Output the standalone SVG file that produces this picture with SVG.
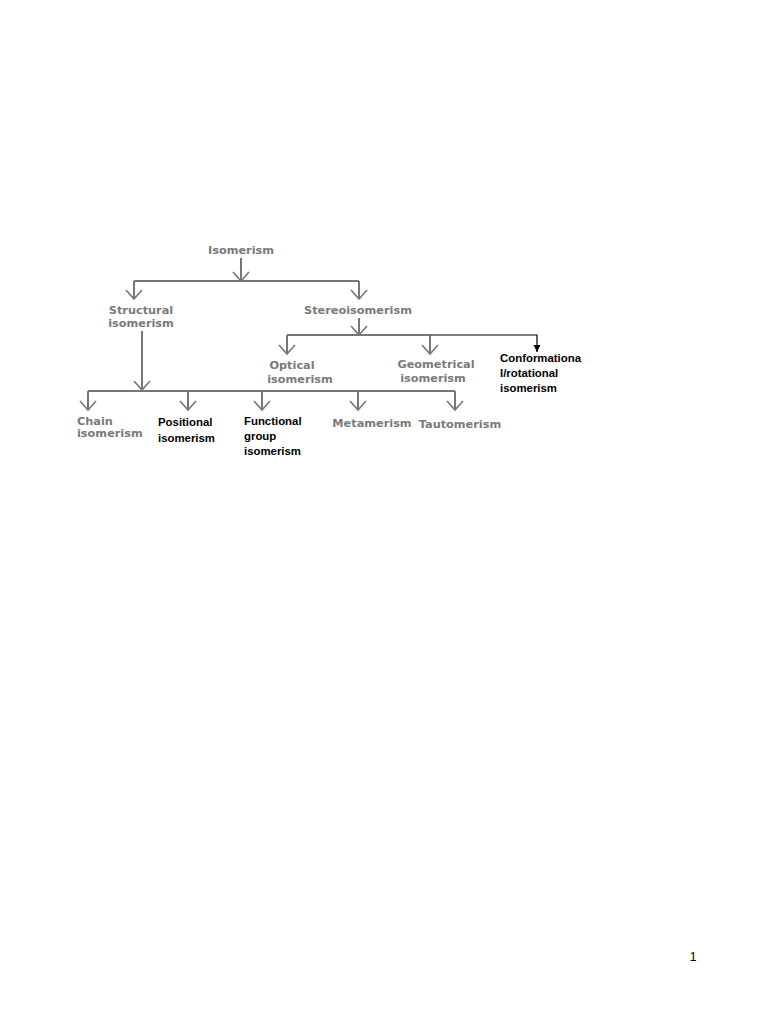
<svg xmlns="http://www.w3.org/2000/svg" width="768" height="1024" viewBox="0 0 768 1024">
<defs>
<marker id="v" viewBox="-10 -10 20 20" refX="0" refY="0" markerWidth="20" markerHeight="20" markerUnits="userSpaceOnUse" orient="auto">
<path d="M-9,-8 L0,0 L-9,8" fill="none" stroke="#777" stroke-width="1.6"/>
</marker>
<marker id="tri" viewBox="-8 -5 10 10" refX="0" refY="0" markerWidth="10" markerHeight="10" markerUnits="userSpaceOnUse" orient="auto">
<path d="M-7,-3.5 L0,0 L-7,3.5 Z" fill="#000"/>
</marker>
<style>
.g{font-family:"DejaVu Sans",Verdana,sans-serif;font-size:11.3px;font-weight:bold;fill:#7a7a7a}
.b{font-family:"Liberation Sans",Arial,sans-serif;font-size:11.4px;font-weight:bold;fill:#000}
.ln{stroke:#777;stroke-width:2;fill:none}
.ar{stroke:#777;stroke-width:2;fill:none;marker-end:url(#v)}
</style>
</defs>
<rect width="768" height="1024" fill="#fff"/>
<g id="connectors">
<path class="ar" d="M241,258 V281"/>
<path class="ln" d="M134,281 H359"/>
<path class="ar" d="M134,281 V299"/>
<path class="ar" d="M359,281 V299"/>
<path class="ar" d="M359,318 V335"/>
<path class="ln" d="M287,335 H430"/>
<path class="ar" d="M287,335 V354"/>
<path class="ar" d="M430,335 V354"/>
<path d="M430,335 H537 V352" fill="none" stroke="#000" stroke-width="1.2" marker-end="url(#tri)"/>
<path class="ar" d="M142,331 V390"/>
<path class="ln" d="M88,391 H455"/>
<path class="ar" d="M88,391 V410"/>
<path class="ar" d="M188,391 V410"/>
<path class="ar" d="M262,391 V410"/>
<path class="ar" d="M358,391 V410"/>
<path class="ar" d="M455,391 V410"/>
</g>
<g id="isomerism"><text class="g" x="241" y="254" text-anchor="middle">Isomerism</text></g>
<g id="structural"><text class="g" x="141" y="314" text-anchor="middle">Structural</text><text class="g" x="141" y="327" text-anchor="middle">isomerism</text></g>
<g id="stereo"><text class="g" x="358" y="314" text-anchor="middle">Stereoisomerism</text></g>
<g id="optical"><text class="g" x="292" y="369" text-anchor="middle">Optical</text><text class="g" x="300" y="383" text-anchor="middle">isomerism</text></g>
<g id="geometrical"><text class="g" x="436" y="368" text-anchor="middle">Geometrical</text><text class="g" x="433" y="382" text-anchor="middle">isomerism</text></g>
<g id="conformational"><text class="b" x="500" y="362">Conformationa</text><text class="b" x="500" y="377">l/rotational</text><text class="b" x="500" y="392">isomerism</text></g>
<g id="chain"><text class="g" x="77" y="425">Chain</text><text class="g" x="77" y="437">isomerism</text></g>
<g id="positional"><text class="b" x="158" y="426">Positional</text><text class="b" x="158" y="442">isomerism</text></g>
<g id="functional"><text class="b" x="244" y="425">Functional</text><text class="b" x="244" y="440">group</text><text class="b" x="244" y="455">isomerism</text></g>
<g id="metamerism"><text class="g" x="372" y="427" text-anchor="middle">Metamerism</text></g>
<g id="tautomerism"><text class="g" x="460" y="428" text-anchor="middle">Tautomerism</text></g>
<text x="693" y="961" font-family="Liberation Sans,Arial,sans-serif" font-size="12" text-anchor="middle" fill="#000">1</text>
</svg>
